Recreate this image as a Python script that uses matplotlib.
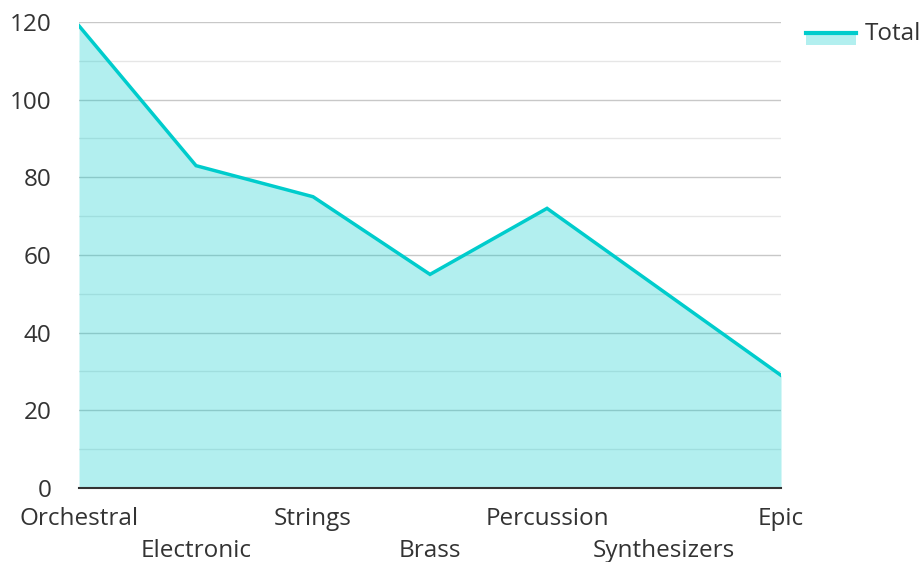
import matplotlib
matplotlib.use("Agg")
import matplotlib.pyplot as plt
from matplotlib.lines import Line2D
from matplotlib.patches import Rectangle

categories = ["Orchestral", "Electronic", "Strings", "Brass",
              "Percussion", "Synthesizers", "Epic"]
totals = [119, 83, 75, 55, 72, 50.5, 29]
series_name = "Total"

line_color = "#00cccc"
fill_alpha = 0.3
text_color = "#333333"
font_size = 17.5

plt.rcParams["font.family"] = ["Open Sans", "DejaVu Sans"]

fig = plt.figure(figsize=(9.22, 5.62), dpi=100)
ax = fig.add_axes([0.0857, 0.1317, 0.7614, 0.8292])

x = list(range(len(categories)))
# translucent fill drawn over the grid so the lines show through tinted
ax.fill_between(x, totals, 0, color=line_color, alpha=fill_alpha,
                linewidth=0, zorder=3)
ax.plot(x, totals, color=line_color, linewidth=2.5, zorder=4,
        solid_joinstyle="miter")

ax.set_xlim(0, len(categories) - 1)
ax.set_ylim(0, 120)
ax.set_yticks(range(0, 121, 20))
ax.set_yticks(range(10, 120, 20), minor=True)
ax.grid(axis="y", which="major", color="#c8c8c8", linewidth=1, zorder=1)
ax.grid(axis="y", which="minor", color="#e6e6e6", linewidth=1, zorder=1)
ax.grid(axis="x", visible=False)
ax.set_axisbelow(True)

for side in ["top", "right", "left"]:
    ax.spines[side].set_visible(False)
ax.spines["bottom"].set_color("#333333")
ax.spines["bottom"].set_linewidth(1.5)
ax.spines["bottom"].set_zorder(5)

ax.tick_params(axis="y", which="both", length=0, labelsize=font_size,
               labelcolor=text_color, pad=20)
ax.tick_params(axis="x", length=0)
ax.set_xticks(x)
ax.set_xticklabels([""] * len(categories))
for i, name in enumerate(categories):
    offset = -0.04 if i % 2 == 0 else -0.11
    ax.text(i, offset, name, transform=ax.get_xaxis_transform(),
            ha="center", va="top", fontsize=font_size, color=text_color)

# legend key: light patch with the line on its top edge
key_left, key_top, key_w, key_h = 0.874, 0.941, 0.054, 0.021
fig.patches.append(Rectangle((key_left, key_top - key_h), key_w, key_h,
                             transform=fig.transFigure, facecolor=line_color,
                             alpha=fill_alpha, edgecolor="none"))
fig.lines.append(Line2D([key_left, key_left + key_w], [key_top, key_top],
                        transform=fig.transFigure, color=line_color,
                        linewidth=3))
fig.text(0.938, 0.940, series_name, ha="left", va="center",
         fontsize=font_size, color=text_color)

fig.savefig("out.png", dpi=100)
